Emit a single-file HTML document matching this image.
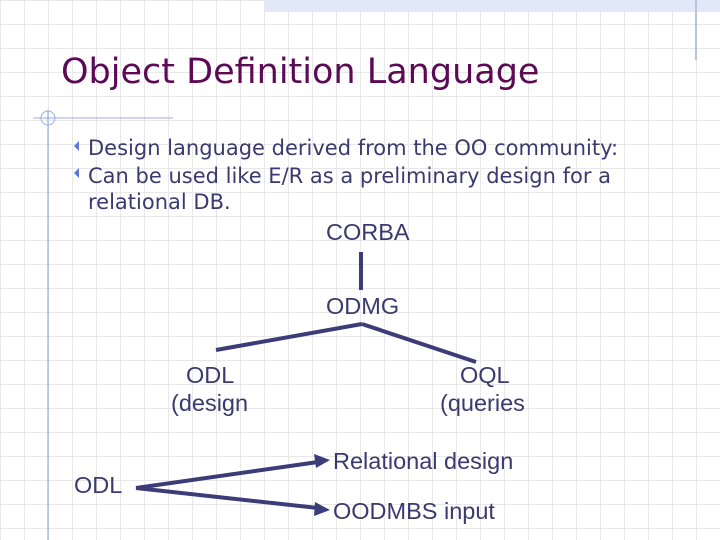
<!DOCTYPE html>
<html><head><meta charset="utf-8"><style>
html,body{margin:0;padding:0}
body{width:720px;height:540px;position:relative;overflow:hidden;background:#fff;
background-image:linear-gradient(to right,#e8e8e8 1px,transparent 1px),linear-gradient(to bottom,#e8e8e8 1px,transparent 1px);
background-size:24px 24px;background-position:0 0;font-family:"Liberation Sans",sans-serif}
.t{position:absolute;white-space:nowrap}
.title{left:61px;top:52px;font-family:"DejaVu Sans",sans-serif;font-size:35px;color:#5c0a56;letter-spacing:0px}
.b{font-family:"DejaVu Sans",sans-serif;font-size:21px;color:#3a3a6e;letter-spacing:0px}
.d{font-size:23.5px;color:#3a3a6e}
</style></head><body>
<div style="position:absolute;left:264px;top:0;width:456px;height:12px;background:#e2e8f8"></div>
<svg width="720" height="540" style="position:absolute;left:0;top:0">
<line x1="696" y1="0" x2="696" y2="60" stroke="#b8c4e0" stroke-width="2"/>
<line x1="33" y1="118" x2="173" y2="118" stroke="#9aaee0" stroke-width="1"/>
<line x1="48" y1="110" x2="48" y2="540" stroke="#9aaee0" stroke-width="1.2"/>
<circle cx="48" cy="118" r="7" fill="none" stroke="#9aaee0" stroke-width="1"/>
<polygon points="79,141 74,146 79,151" fill="#5a78d8"/>
<polygon points="79,168 74,173 79,178" fill="#5a78d8"/>
<g stroke="#3c3c78" stroke-width="4" fill="none">
<line x1="361" y1="252" x2="361" y2="290"/>
<line x1="362" y1="324" x2="216" y2="350"/>
<line x1="362" y1="324" x2="476" y2="362"/>
<line x1="136" y1="488" x2="318" y2="462"/>
<line x1="136" y1="488" x2="318" y2="508"/>
</g>
<polygon points="330,460 314,454 316,468" fill="#3c3c78"/>
<polygon points="330,510 315,502 314,516" fill="#3c3c78"/>
</svg>
<div class="t title">Object Definition Language</div>
<div class="t b" style="left:88px;top:136px">Design language derived from the OO community:</div>
<div class="t b" style="left:88px;top:164px">Can be used like E/R as a preliminary design for a</div>
<div class="t b" style="left:88px;top:190px">relational DB.</div>
<div class="t d" style="left:326px;top:219px">CORBA</div>
<div class="t d" style="left:326px;top:293px">ODMG</div>
<div class="t d" style="left:186px;top:362px">ODL</div>
<div class="t d" style="left:171px;top:390px">(design</div>
<div class="t d" style="left:460px;top:362px">OQL</div>
<div class="t d" style="left:440px;top:390px">(queries</div>
<div class="t d" style="left:333px;top:448px">Relational design</div>
<div class="t d" style="left:74px;top:472px">ODL</div>
<div class="t d" style="left:333px;top:498px">OODMBS input</div>
</body></html>
